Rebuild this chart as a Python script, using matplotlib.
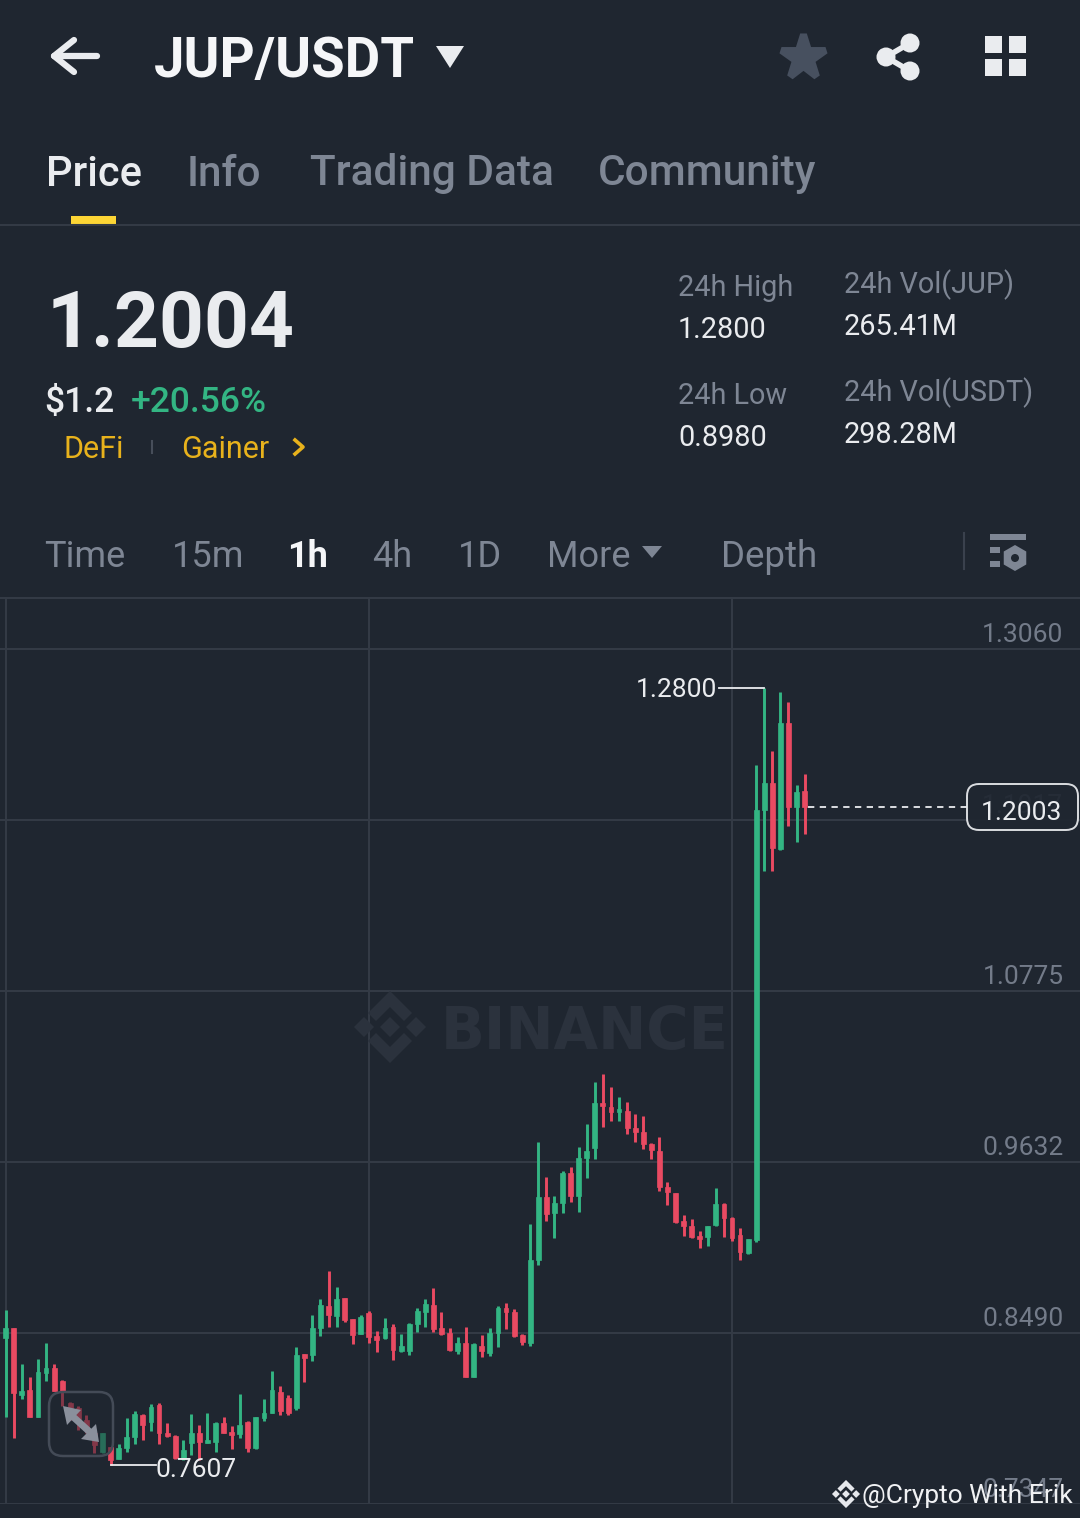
"""Binance app screenshot: JUP/USDT 1h candlesticks."""
import matplotlib
matplotlib.use("Agg")
import matplotlib.pyplot as plt
import numpy as np
from matplotlib.patches import Circle, FancyBboxPatch, Polygon, Rectangle, RegularPolygon
from matplotlib.transforms import ScaledTranslation

plt.rcParams["font.family"] = ["Roboto", "DejaVu Sans"]

opens = [.8455, .8521, .8076, .8109, .7927, .8225, .8254, .8172, .8020, .7987,
         .7909, .7820, .7697, .7731, .7646, .7720, .7798, .7942, .7898, .8009,
         .7820, .7802, .7646, .7753, .7820, .7753, .7764, .7887, .7831, .7816,
         .7898, .7720, .7920, .7958, .8096, .8056, .7990, .8349, .8343, .8521,
         .8672, .8603, .8721, .8581, .8481, .8621, .8470, .8454, .8532, .8372,
         .8372, .8550, .8632, .8677, .8521, .8487, .8372, .8425, .8198, .8405,
         .8354, .8492, .8654, .8632, .8476, .8421, .8978, .9401, .9290, .9361,
         .9561, .9405, .9657, .9724, 1.0029, 1.0002, .9969, .9975, .9857, .9835,
         .9753, .9708, .9468, .9428, .9241, .9205, .9138, .9134, .9212, .9352,
         .9256, .9145, .9022, .9111, 1.1984, 1.2167, 1.1724, 1.2564, 1.2007, 1.2114]
highs = [.8644, .8521, .8283, .8194, .8319, .8421, .8283, .8176, .8031, .8000,
         .7942, .7842, .7824, .7731, .7749, .7920, .7971, .7949, .8014, .8020,
         .7891, .7809, .7775, .7949, .7876, .7958, .7898, .7927, .7869, .8080,
         .7904, .7931, .8047, .8239, .8136, .8076, .8398, .8349, .8610, .8715,
         .8906, .8799, .8721, .8581, .8608, .8637, .8501, .8588, .8550, .8481,
         .8557, .8659, .8715, .8788, .8628, .8521, .8461, .8532, .8421, .8476,
         .8525, .8670, .8692, .8650, .8481, .9218, .9764, .9534, .9405, .9575,
         .9597, .9735, .9886, 1.0169, 1.0218, 1.0131, 1.0065, 1.0036, .9953, .9940,
         .9757, .9797, .9497, .9428, .9278, .9250, .9169, .9207, .9457, .9356,
         .9267, .9189, .9118, 1.2285, 1.2800, 1.2379, 1.2771, 1.2704, 1.2154, 1.2223]
lows = [.7927, .7787, .8047, .7927, .7927, .8172, .8105, .8000, .7909, .7842,
        .7820, .7686, .7686, .7607, .7646, .7697, .7746, .7775, .7838, .7749,
        .7793, .7646, .7642, .7675, .7642, .7753, .7697, .7824, .7713, .7787,
        .7697, .7713, .7902, .7958, .7942, .7942, .7976, .8164, .8305, .8472,
        .8528, .8528, .8563, .8418, .8481, .8425, .8363, .8450, .8312, .8363,
        .8345, .8499, .8532, .8499, .8476, .8369, .8349, .8198, .8193, .8332,
        .8336, .8398, .8516, .8463, .8412, .8405, .8944, .9238, .9122, .9294,
        .9367, .9298, .9523, .9655, .9869, .9906, .9906, .9820, .9768, .9722,
        .9650, .9437, .9345, .9223, .9138, .9123, .9060, .9071, .9207, .9134,
        .9107, .8978, .9016, .9100, 1.1577, 1.1577, 1.1717, 1.1880, 1.1773, 1.1822]
closes = [.8521, .8087, .8105, .7927, .8232, .8254, .8105, .8105, .7987, .7909,
          .7842, .7742, .7824, .7642, .7720, .7798, .7949, .7876, .7998, .7820,
          .7802, .7653, .7709, .7824, .7764, .7775, .7887, .7824, .7809, .7876,
          .7720, .7927, .7954, .8109, .7969, .7956, .8343, .8320, .8521, .8677,
          .8610, .8715, .8577, .8476, .8599, .8465, .8443, .8521, .8376, .8403,
          .8550, .8639, .8683, .8514, .8483, .8376, .8425, .8198, .8416, .8372,
          .8492, .8654, .8632, .8470, .8432, .8977, .9401, .9285, .9361, .9561,
          .9405, .9657, .9708, 1.0029, 1.0007, .9964, .9984, .9857, .9831, .9753,
          .9713, .9463, .9434, .9234, .9207, .9134, .9118, .9205, .9352, .9256,
          .9123, .9033, .9116, 1.1984, 1.2167, 1.1733, 1.2564, 1.2002, 1.2107, 1.2003]
price_ticks = [1.3060, 1.1917, 1.0775, 0.9632, 0.8490, 0.7347]
time_ticks = [0, 45, 90]

BG = "#1F2630"
GRID = "#333A45"
GREEN = "#33B583"
RED = "#E94A62"
GRAY = "#7E8694"
WHITE = "#EAECEF"
GOLD = "#E8B21C"
MARK = "#2B323D"

W, H = 1080, 1518
fig = plt.figure(figsize=(W / 100, H / 100), dpi=100, facecolor=BG)

# --- candle chart, x = candle index, y = price
top, bottom = 598, 1504
ax = fig.add_axes([0, 1 - bottom / H, 1, (bottom - top) / H], facecolor=BG)
per_candle = 8.07
ax.set_xlim(-5.7 / per_candle, (W - 5.7) / per_candle)
per_px = (price_ticks[0] - price_ticks[-1]) / (5 * 171)
ax.set_ylim(price_ticks[-1], price_ticks[0] + 51 * per_px)
for s in ax.spines.values():
    s.set_visible(False)
ax.set_xticks(time_ticks, labels=[])
ax.set_yticks(price_ticks, labels=[f"{p:.4f}" for p in price_ticks])
ax.grid(color=GRID, lw=1.5)
ax.set_axisbelow(True)
ax.yaxis.tick_right()
ax.tick_params(length=0, labelsize=19, labelcolor="#737B89", pad=-12)
plt.setp(ax.get_yticklabels(), ha="right", va="bottom")
nudge = ScaledTranslation(0, 2 / 100, fig.dpi_scale_trans)  # labels sit 2 px higher
for t in ax.get_yticklabels():
    t.set_transform(t.get_transform() + nudge)

x = np.arange(len(opens))
o, h, l, c = map(np.array, (opens, highs, lows, closes))
cols = [GREEN if up else RED for up in c >= o]
ax.vlines(x, l, h, colors=cols, lw=2.1, zorder=3)
ax.bar(x, np.abs(c - o), bottom=np.minimum(o, c), width=0.6, color=cols, edgecolor=cols, lw=0.5, zorder=3)

# high / low / last markers
i_hi, i_lo = int(np.argmax(h)), int(np.argmin(l))
ax.plot([i_hi - 5.6, i_hi], [h[i_hi], h[i_hi]], color=WHITE, lw=1.3, zorder=4)
ax.text(i_hi - 5.85, h[i_hi] - 2 * per_px, f"{h[i_hi]:.4f}", color=WHITE, fontsize=19, ha="right", va="center", zorder=5)
ax.plot([i_lo, i_lo + 5.6], [l[i_lo], l[i_lo]], color=WHITE, lw=1.3, zorder=4)
ax.text(i_lo + 5.55, l[i_lo] - 5 * per_px, f"{l[i_lo]:.4f}", color=WHITE, fontsize=19, ha="left", va="center", zorder=5)
ax.plot([len(c) - 0.6, 119.1], [c[-1], c[-1]], color=WHITE, lw=1.3, ls=(0, (3.5, 3)), zorder=4)

# --- screen furniture, in pixels
ui = fig.add_axes([0, 0, 1, 1], facecolor="none")
ui.set_xlim(0, W)
ui.set_ylim(H, 0)
ui.axis("off")


def label(px, py, s, color=WHITE, size=20, weight="normal", ha="left", **kw):
    ui.text(px, py, s, color=color, fontsize=size, fontweight=weight, ha=ha, va="center", **kw)


def binance_logo(cx, cy, k, color):
    """Four diamonds and two chevrons; k=1 is 36 px half height."""
    chevron = np.array([(0, -36), (22, -14), (14, -6), (0, -20), (-14, -6), (-22, -14)]) * k
    ui.add_patch(Polygon(chevron + (cx, cy), color=color, lw=0))
    ui.add_patch(Polygon(chevron * (1, -1) + (cx, cy), color=color, lw=0))
    for dx, r in [(0, 10), (-26, 10), (26, 10)]:
        ui.add_patch(RegularPolygon((cx + dx * k, cy), 4, radius=r * k, color=color, lw=0))


# header
ui.plot([54, 97], [56, 56], color=WHITE, lw=4.5, solid_capstyle="round")
ui.plot([74, 54, 74], [40, 56, 72], color=WHITE, lw=4.5, solid_capstyle="round", solid_joinstyle="round")
label(154, 62, "JUP/USDT", "#F5F6F8", 39.3, "bold")
ui.add_patch(Polygon([(436, 46), (464, 46), (450, 68)], color=WHITE, lw=0))
ui.plot([803], [57], marker="*", ms=33, color="#47505F", mec="#47505F", mew=5)
for cx, cy in [(886, 57), (910, 43), (910, 71)]:
    ui.add_patch(Circle((cx, cy), 9.5, color=WHITE, lw=0))
ui.plot([910, 886, 910], [43, 57, 71], color=WHITE, lw=4)
for bx, by in [(985, 36), (1009, 36), (985, 59), (1009, 59)]:
    ui.add_patch(Rectangle((bx, by), 17, 17, color=WHITE, lw=0))

# tabs
label(46, 174, "Price", WHITE, 30, "medium")
label(187, 174, "Info", GRAY, 30.5, "medium")
label(310, 174, "Trading Data", GRAY, 30.5, "medium")
label(598, 174, "Community", GRAY, 30.5, "medium")
ui.add_patch(Rectangle((71, 216), 45, 8, color="#FCD535", lw=0))
ui.plot([0, W], [225, 225], color=GRID, lw=1.5)
ui.plot([0, W], [598, 598], color=GRID, lw=1.5)

# price block
label(47, 326, "1.2004", WHITE, 56.5, "bold")
label(44, 402, "$1.2", WHITE, 25.5, "medium")
label(131, 402, "+20.56%", GREEN, 25.5, "medium")
label(63, 449, "DeFi", GOLD, 22)
ui.plot([152, 152], [441, 453], color="#474E5A", lw=1.5)
label(181, 449, "Gainer", GOLD, 22)
ui.plot([295, 303, 295], [440, 447, 454], color=GOLD, lw=2.6)

# 24h stats
label(678, 288, "24h High", GRAY, 20.8)
label(678, 330, "1.2800", WHITE, 20.8)
label(678, 396, "24h Low", GRAY, 20.8)
label(678, 438, "0.8980", WHITE, 20.8)
label(844, 285, "24h Vol(JUP)", GRAY, 20.8)
label(844, 327, "265.41M", WHITE, 20.8)
label(844, 393, "24h Vol(USDT)", GRAY, 20.8)
label(844, 435, "298.28M", WHITE, 20.8)

# interval row
label(44, 557, "Time", GRAY, 26)
label(172, 557, "15m", GRAY, 26)
label(287, 557, "1h", "#F5F6F8", 26, "bold")
label(372, 557, "4h", GRAY, 26)
label(458, 557, "1D", GRAY, 26)
label(547, 557, "More", GRAY, 26)
ui.add_patch(Polygon([(642, 546), (662, 546), (652, 558)], color=GRAY, lw=0))
label(721, 557, "Depth", GRAY, 26.5)
ui.plot([964, 964], [533, 569], color="#3A414D", lw=1.5)
ui.add_patch(Rectangle((990, 534), 36, 6, color=GRAY, lw=0))
ui.add_patch(Rectangle((990, 547), 10, 6, color=GRAY, lw=0))
ui.add_patch(Rectangle((990, 561), 10, 6, color=GRAY, lw=0))
ui.add_patch(RegularPolygon((1015, 558), 6, radius=13, color=GRAY, lw=0))
ui.add_patch(Circle((1015, 558), 4, color=BG, lw=0))

# watermark
binance_logo(390, 1027, 1, MARK)
ui.text(441, 1032, "BINANCE", color=MARK, fontsize=41.5, fontweight="bold", family="DejaVu Sans",
        ha="left", va="center")

# current price pill
ui.add_patch(FancyBboxPatch((975, 792), 95, 30, boxstyle="round,pad=8,rounding_size=12",
                            fc=BG, ec=WHITE, lw=1.4, alpha=0.92))
label(1062, 813, f"{c[-1]:.4f}", WHITE, 19, ha="right")

# expand button
ui.add_patch(FancyBboxPatch((58, 1401), 46, 46, boxstyle="round,pad=9,rounding_size=14",
                            fc="#1F263080", ec="#444B57", lw=1.8))
ui.plot([70, 92], [1414, 1434], color="#8A909C", lw=5)
ui.add_patch(Polygon([(63, 1406), (81, 1410), (67, 1425)], color="#8A909C", lw=0))
ui.add_patch(Polygon([(99, 1442), (81, 1439), (96, 1424)], color="#8A909C", lw=0))

# credit, bottom right
binance_logo(846, 1494, 0.39, "#E6E8EC")
label(862, 1496, "@Crypto With Erik", "#F0F1F3", 19)

fig.savefig("out.png", dpi=100, facecolor=BG)
